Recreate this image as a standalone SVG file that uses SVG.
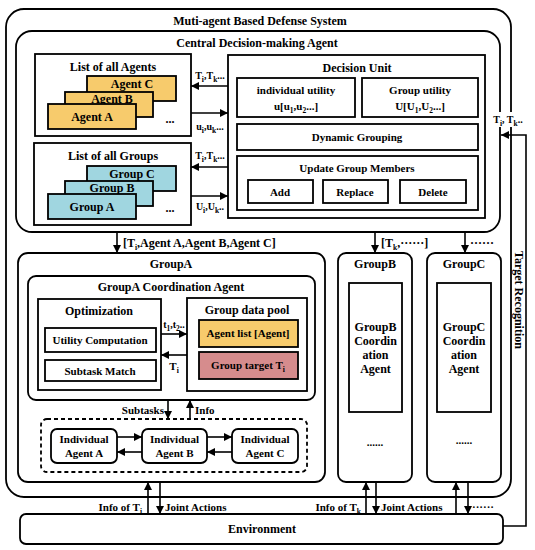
<svg xmlns="http://www.w3.org/2000/svg" width="535" height="550" viewBox="0 0 535 550">
<defs>
<style>
text{font-family:"Liberation Serif","Times New Roman",serif;font-weight:bold;fill:#000;text-anchor:middle}
.b{fill:#fff;stroke:#000;stroke-width:1.8}
.y{fill:#F7CB6C;stroke:#000;stroke-width:1.8}
.c{fill:#A0D6E0;stroke:#000;stroke-width:1.8}
.p{fill:#D68C8D;stroke:#000;stroke-width:1.8}
.d{fill:none;stroke:#000;stroke-width:1.8;stroke-dasharray:4 3}
.l{fill:none;stroke:#000;stroke-width:1.6}
.t12{font-size:12px}
.t11{font-size:11px}
.t10{font-size:10px}
.s{font-size:7.5px}
.st{text-anchor:start}
.en{text-anchor:end}
</style>
<marker id="ah" viewBox="0 0 10 10" refX="10" refY="5" markerWidth="9" markerHeight="8" orient="auto" markerUnits="userSpaceOnUse"><path d="M0,0 L10,5 L0,10 z" fill="#000"/></marker>
</defs>

<g id="system">
<rect class="b" x="6" y="9" width="505" height="488" rx="18"/>
<text class="t12" x="260" y="25">Muti-agent Based Defense System</text>
</g>

<g id="central">
<rect class="b" x="16" y="31" width="484" height="201" rx="16"/>
<text class="t12" x="257" y="47">Central Decision-making Agent</text>
</g>

<g id="agentList">
<rect class="b" x="35" y="54" width="156" height="82"/>
<text class="t12" x="113" y="71">List of all Agents</text>
<rect class="y" x="87" y="76" width="89" height="25"/>
<text class="t12" x="132" y="88">Agent C</text>
<rect class="y" x="65" y="92" width="88" height="25"/>
<text class="t12" x="112" y="103">Agent B</text>
<rect class="y" x="48" y="104" width="88" height="25"/>
<text class="t12" x="92" y="121">Agent A</text>
<text class="t12" x="170" y="123">...</text>
</g>

<g id="groupList">
<rect class="b" x="34" y="143" width="157" height="82"/>
<text class="t12" x="113" y="160">List of all Groups</text>
<rect class="c" x="87" y="166" width="89" height="25"/>
<text class="t12" x="132" y="178">Group C</text>
<rect class="c" x="65" y="181" width="88" height="25"/>
<text class="t12" x="112" y="192">Group B</text>
<rect class="c" x="48" y="194" width="88" height="25"/>
<text class="t12" x="92" y="211">Group A</text>
<text class="t12" x="170" y="212">...</text>
</g>

<g id="decisionUnit">
<rect class="b" x="228" y="55" width="257" height="163"/>
<text class="t12" x="357" y="72">Decision Unit</text>
<rect class="b" x="237" y="78" width="118" height="39"/>
<text class="t11" x="296" y="94">individual utility</text>
<text class="t11" x="296" y="110">u[u<tspan class="s" dy="2.5">1</tspan><tspan dy="-2.5">,u</tspan><tspan class="s" dy="2.5">2</tspan><tspan dy="-2.5">...]</tspan></text>
<rect class="b" x="362" y="78" width="116" height="39"/>
<text class="t11" x="420" y="94">Group utility</text>
<text class="t11" x="420" y="110">U[U<tspan class="s" dy="2.5">1</tspan><tspan dy="-2.5">,U</tspan><tspan class="s" dy="2.5">2</tspan><tspan dy="-2.5">...]</tspan></text>
<rect class="b" x="237" y="124" width="241" height="26"/>
<text class="t11" x="357" y="141">Dynamic Grouping</text>
<rect class="b" x="237" y="156" width="241" height="54"/>
<text class="t11" x="357" y="172">Update Group Members</text>
<rect class="b" x="248" y="180" width="65" height="23"/>
<text class="t11" x="280" y="196">Add</text>
<rect class="b" x="323" y="180" width="65" height="23"/>
<text class="t11" x="355" y="196">Replace</text>
<rect class="b" x="400" y="180" width="66" height="23"/>
<text class="t11" x="433" y="196">Delete</text>
</g>

<g id="groupA">
<rect class="b" x="18" y="253" width="307" height="229" rx="10"/>
<text class="t12" x="171" y="268">GroupA</text>
<rect class="b" x="28" y="276" width="287" height="124" rx="8"/>
<text class="t12" x="171" y="291">GroupA Coordination Agent</text>
<rect class="b" x="38" y="299" width="123" height="91"/>
<text class="t12" x="99" y="315">Optimization</text>
<rect class="b" x="45" y="328" width="111" height="24"/>
<text class="t11" x="100" y="344">Utility Computation</text>
<rect class="b" x="45" y="360" width="111" height="21"/>
<text class="t11" x="100" y="375">Subtask Match</text>
<rect class="b" x="187" y="298" width="120" height="93"/>
<text class="t12" x="247" y="314">Group data pool</text>
<rect class="y" x="199" y="320" width="99" height="27"/>
<text class="t11" x="248" y="337">Agent list [Agent]</text>
<rect class="p" x="199" y="352" width="99" height="27"/>
<text class="t11" x="248" y="369">Group target T<tspan class="s" dy="2.5">i</tspan></text>
<rect class="d" x="41" y="419" width="266" height="53" rx="6"/>
</g>

<g id="agentA">
<rect class="b" x="51" y="429" width="66" height="34" rx="6"/>
<text class="t11" x="84" y="443">Individual</text>
<text class="t11" x="84" y="457">Agent A</text>
</g>
<g id="agentB">
<rect class="b" x="142" y="429" width="65" height="34" rx="6"/>
<text class="t11" x="174.5" y="443">Individual</text>
<text class="t11" x="174.5" y="457">Agent B</text>
</g>
<g id="agentC">
<rect class="b" x="232" y="429" width="66" height="34" rx="6"/>
<text class="t11" x="265" y="443">Individual</text>
<text class="t11" x="265" y="457">Agent C</text>
</g>

<g id="groupB">
<rect class="b" x="338" y="253" width="74" height="229" rx="8"/>
<text class="t12" x="375" y="268">GroupB</text>
<rect class="b" x="349" y="283" width="53" height="129"/>
<text class="t12" x="375.5" y="331">GroupB</text>
<text class="t12" x="375.5" y="345">Coordin</text>
<text class="t12" x="375.5" y="359">ation</text>
<text class="t12" x="375.5" y="373">Agent</text>
<text class="t11" x="375" y="446">......</text>
</g>

<g id="groupC">
<rect class="b" x="427" y="253" width="74" height="229" rx="8"/>
<text class="t12" x="464" y="268">GroupC</text>
<rect class="b" x="437" y="283" width="54" height="129"/>
<text class="t12" x="464" y="331">GroupC</text>
<text class="t12" x="464" y="345">Coordin</text>
<text class="t12" x="464" y="359">ation</text>
<text class="t12" x="464" y="373">Agent</text>
<text class="t11" x="464" y="444">......</text>
</g>

<g id="environment">
<rect class="b" x="20" y="514" width="483" height="30" rx="6"/>
<text class="t12" x="262" y="533">Environment</text>
</g>

<g id="connectors">
<line class="l" x1="228" y1="86" x2="191" y2="86" marker-end="url(#ah)"/>
<line class="l" x1="191" y1="113" x2="228" y2="113" marker-end="url(#ah)"/>
<line class="l" x1="228" y1="167" x2="191" y2="167" marker-end="url(#ah)"/>
<line class="l" x1="191" y1="196" x2="228" y2="196" marker-end="url(#ah)"/>
<line class="l" x1="117" y1="232" x2="117" y2="253" marker-end="url(#ah)"/>
<line class="l" x1="375" y1="232" x2="375" y2="253" marker-end="url(#ah)"/>
<line class="l" x1="465" y1="232" x2="465" y2="253" marker-end="url(#ah)"/>
<line class="l" x1="161" y1="334" x2="187" y2="334" marker-end="url(#ah)"/>
<line class="l" x1="187" y1="355" x2="161" y2="355" marker-end="url(#ah)"/>
<line class="l" x1="168" y1="400" x2="168" y2="419" marker-end="url(#ah)"/>
<line class="l" x1="190" y1="419" x2="190" y2="400" marker-end="url(#ah)"/>
<line class="l" x1="117" y1="437" x2="142" y2="437" marker-end="url(#ah)"/>
<line class="l" x1="142" y1="452" x2="117" y2="452" marker-end="url(#ah)"/>
<line class="l" x1="207" y1="437" x2="232" y2="437" marker-end="url(#ah)"/>
<line class="l" x1="232" y1="452" x2="207" y2="452" marker-end="url(#ah)"/>
<line class="l" x1="148" y1="514" x2="148" y2="482" marker-end="url(#ah)"/>
<line class="l" x1="160" y1="482" x2="160" y2="514" marker-end="url(#ah)"/>
<line class="l" x1="366" y1="514" x2="366" y2="482" marker-end="url(#ah)"/>
<line class="l" x1="376" y1="482" x2="376" y2="514" marker-end="url(#ah)"/>
<line class="l" x1="456" y1="514" x2="456" y2="482" marker-end="url(#ah)"/>
<line class="l" x1="468" y1="482" x2="468" y2="514" marker-end="url(#ah)"/>
<path class="l" d="M503,526 H526 V135 H501" marker-end="url(#ah)"/>

<text class="t10" x="210" y="79">T<tspan class="s" dy="2.5">i</tspan><tspan dy="-2.5">,T</tspan><tspan class="s" dy="2.5">k</tspan><tspan dy="-2.5">...</tspan></text>
<text class="t10" x="210" y="130">u<tspan class="s" dy="2.5">i</tspan><tspan dy="-2.5">,u</tspan><tspan class="s" dy="2.5">k</tspan><tspan dy="-2.5">...</tspan></text>
<text class="t10" x="210" y="159">T<tspan class="s" dy="2.5">i</tspan><tspan dy="-2.5">,T</tspan><tspan class="s" dy="2.5">k</tspan><tspan dy="-2.5">...</tspan></text>
<text class="t10" x="210" y="210">U<tspan class="s" dy="2.5">i</tspan><tspan dy="-2.5">,U</tspan><tspan class="s" dy="2.5">k</tspan><tspan dy="-2.5">..</tspan></text>
<text class="t12 st" x="123" y="247">[T<tspan class="s" dy="2.5">i</tspan><tspan dy="-2.5">,Agent A,Agent B,Agent C]</tspan></text>
<text class="t12 st" x="381" y="247">[T<tspan class="s" dy="2.5">k</tspan><tspan dy="-2.5">,······]</tspan></text>
<text class="t12 st" x="470" y="247">······</text>
<text class="t10" x="174" y="328">t<tspan class="s" dy="2.5">1</tspan><tspan dy="-2.5">,t</tspan><tspan class="s" dy="2.5">2</tspan><tspan dy="-2.5">..</tspan></text>
<text class="t11" x="174" y="370">T<tspan class="s" dy="2.5">i</tspan></text>
<text class="t11 en" x="164" y="414">Subtasks</text>
<text class="t11 st" x="195" y="414">Info</text>
<text class="t11 en" x="142" y="511">Info of T<tspan class="s" dy="2.5">i</tspan></text>
<text class="t11 st" x="165" y="511">Joint Actions</text>
<text class="t11 en" x="361" y="511">Info of T<tspan class="s" dy="2.5">k</tspan></text>
<text class="t11 st" x="381" y="511">Joint Actions</text>
<text class="t11 st" x="472" y="511">······</text>
<rect x="490" y="112" width="36" height="15" fill="#fff"/>
<text class="t10" x="508" y="123">T<tspan class="s" dy="2.5">i</tspan><tspan dy="-2.5">, T</tspan><tspan class="s" dy="2.5">k</tspan><tspan dy="-2.5">..</tspan></text>
<text class="t12" transform="translate(515,300) rotate(90)">Target Recognition</text>
</g>
</svg>
